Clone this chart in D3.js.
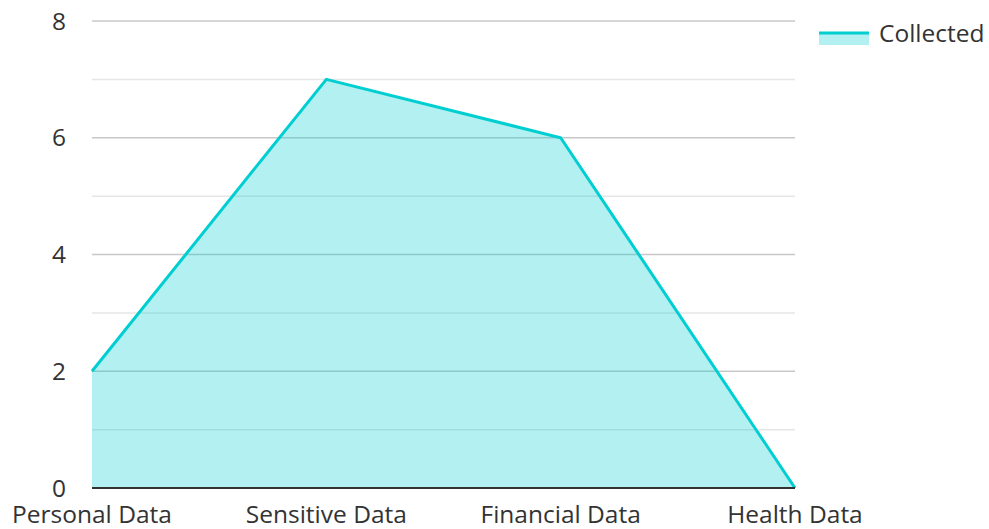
<!DOCTYPE html>
<html><head><meta charset="utf-8">
<script src="https://cdn.jsdelivr.net/npm/d3@7"></script>
<style>body{margin:0;background:#fff;font-family:"Open Sans",sans-serif;}</style>
</head><body><svg id="c" width="989" height="529"></svg>
<script>
const categories = ["Personal Data","Sensitive Data","Financial Data","Health Data"];
const collected = [2,7,6,0];
const yTicks = [0,2,4,6,8];
const minorTicks = [1,3,5,7];
const seriesName = "Collected";

(function(){
const svg = d3.select("#c");
const mL = 92, mR = 795, mT = 21, mB = 488;
const x = d3.scalePoint().domain(categories).range([mL, mR]);
const y = d3.scaleLinear().domain([0,8]).range([mB, mT]);
const color = "#00CED1";
const fs = 24.5;

svg.append("g").selectAll("line").data(minorTicks).join("line")
  .attr("x1", mL).attr("x2", mR).attr("y1", d=>y(d)).attr("y2", d=>y(d))
  .attr("stroke", "#e6e6e6").attr("stroke-width", 1.5);
svg.append("g").selectAll("line").data(yTicks.filter(d=>d>0)).join("line")
  .attr("x1", mL).attr("x2", mR).attr("y1", d=>y(d)).attr("y2", d=>y(d))
  .attr("stroke", "#c8c8c8").attr("stroke-width", 1.5);

const area = d3.area().x((d,i)=>x(categories[i])).y0(y(0)).y1(d=>y(d));
const line = d3.line().x((d,i)=>x(categories[i])).y(d=>y(d));
svg.append("path").datum(collected).attr("d", area).attr("fill", color).attr("fill-opacity", 0.3);
svg.append("path").datum(collected).attr("d", line).attr("fill", "none").attr("stroke", color).attr("stroke-width", 3);

svg.append("line").attr("x1", mL).attr("x2", mR).attr("y1", y(0)).attr("y2", y(0))
  .attr("stroke", "#333").attr("stroke-width", 2);

svg.append("g").selectAll("text").data(yTicks).join("text")
  .attr("x", 66).attr("y", d=>y(d)).attr("dy", "0.35em").attr("text-anchor", "end")
  .attr("font-size", fs).attr("fill", "#333").text(d=>d);

svg.append("g").selectAll("text").data(categories).join("text")
  .attr("x", d=>x(d)).attr("y", 523).attr("text-anchor", "middle")
  .attr("font-size", fs).attr("fill", "#333").text(d=>d);

const lg = svg.append("g");
lg.append("rect").attr("x", 819).attr("y", 33).attr("width", 50).attr("height", 12).attr("fill", color).attr("fill-opacity", 0.3);
lg.append("line").attr("x1", 819).attr("x2", 869).attr("y1", 33).attr("y2", 33).attr("stroke", color).attr("stroke-width", 3);
lg.append("text").attr("x", 879).attr("y", 42).attr("font-size", fs).attr("fill", "#333").text(seriesName);
})();
</script></body></html>
